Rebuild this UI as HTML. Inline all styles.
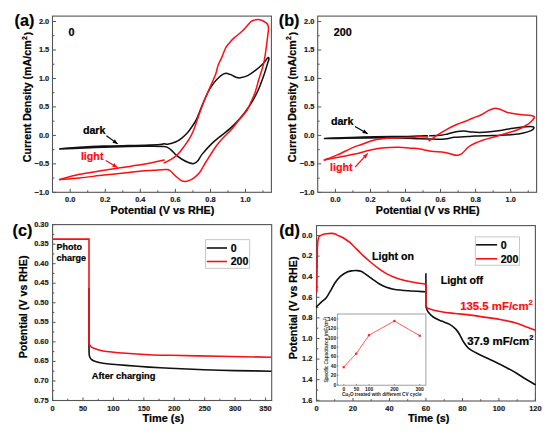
<!DOCTYPE html>
<html><head><meta charset="utf-8"><style>
html,body{margin:0;padding:0;background:#fff;}
body{width:550px;height:434px;overflow:hidden;}
svg{display:block;font-family:"Liberation Sans", sans-serif;}
</style></head><body>
<svg width="550" height="434" viewBox="0 0 550 434">
<rect width="550" height="434" fill="#fff"/>
<rect x="52.5" y="16.1" width="218.9" height="176.2" fill="none" stroke="#555" stroke-width="1.1"/>
<line x1="70.2" y1="192.3" x2="70.2" y2="188.8" stroke="#555" stroke-width="1"/>
<line x1="105.26" y1="192.3" x2="105.26" y2="188.8" stroke="#555" stroke-width="1"/>
<line x1="140.32" y1="192.3" x2="140.32" y2="188.8" stroke="#555" stroke-width="1"/>
<line x1="175.38" y1="192.3" x2="175.38" y2="188.8" stroke="#555" stroke-width="1"/>
<line x1="210.44" y1="192.3" x2="210.44" y2="188.8" stroke="#555" stroke-width="1"/>
<line x1="245.5" y1="192.3" x2="245.5" y2="188.8" stroke="#555" stroke-width="1"/>
<line x1="87.73" y1="192.3" x2="87.73" y2="190.3" stroke="#555" stroke-width="1"/>
<line x1="122.79" y1="192.3" x2="122.79" y2="190.3" stroke="#555" stroke-width="1"/>
<line x1="157.85" y1="192.3" x2="157.85" y2="190.3" stroke="#555" stroke-width="1"/>
<line x1="192.91" y1="192.3" x2="192.91" y2="190.3" stroke="#555" stroke-width="1"/>
<line x1="227.97" y1="192.3" x2="227.97" y2="190.3" stroke="#555" stroke-width="1"/>
<line x1="263.03" y1="192.3" x2="263.03" y2="190.3" stroke="#555" stroke-width="1"/>
<line x1="52.5" y1="192.35" x2="56" y2="192.35" stroke="#555" stroke-width="1"/>
<line x1="52.5" y1="163.88" x2="56" y2="163.88" stroke="#555" stroke-width="1"/>
<line x1="52.5" y1="135.4" x2="56" y2="135.4" stroke="#555" stroke-width="1"/>
<line x1="52.5" y1="106.93" x2="56" y2="106.93" stroke="#555" stroke-width="1"/>
<line x1="52.5" y1="78.45" x2="56" y2="78.45" stroke="#555" stroke-width="1"/>
<line x1="52.5" y1="49.97" x2="56" y2="49.97" stroke="#555" stroke-width="1"/>
<line x1="52.5" y1="21.5" x2="56" y2="21.5" stroke="#555" stroke-width="1"/>
<line x1="52.5" y1="178.11" x2="54.5" y2="178.11" stroke="#555" stroke-width="1"/>
<line x1="52.5" y1="149.64" x2="54.5" y2="149.64" stroke="#555" stroke-width="1"/>
<line x1="52.5" y1="121.16" x2="54.5" y2="121.16" stroke="#555" stroke-width="1"/>
<line x1="52.5" y1="92.69" x2="54.5" y2="92.69" stroke="#555" stroke-width="1"/>
<line x1="52.5" y1="64.21" x2="54.5" y2="64.21" stroke="#555" stroke-width="1"/>
<line x1="52.5" y1="35.74" x2="54.5" y2="35.74" stroke="#555" stroke-width="1"/>
<text x="70.2" y="201.8" font-size="7.4" text-anchor="middle" fill="#1a1a1a" font-weight="bold" stroke="#1a1a1a" stroke-width="0.18">0.0</text>
<text x="105.26" y="201.8" font-size="7.4" text-anchor="middle" fill="#1a1a1a" font-weight="bold" stroke="#1a1a1a" stroke-width="0.18">0.2</text>
<text x="140.32" y="201.8" font-size="7.4" text-anchor="middle" fill="#1a1a1a" font-weight="bold" stroke="#1a1a1a" stroke-width="0.18">0.4</text>
<text x="175.38" y="201.8" font-size="7.4" text-anchor="middle" fill="#1a1a1a" font-weight="bold" stroke="#1a1a1a" stroke-width="0.18">0.6</text>
<text x="210.44" y="201.8" font-size="7.4" text-anchor="middle" fill="#1a1a1a" font-weight="bold" stroke="#1a1a1a" stroke-width="0.18">0.8</text>
<text x="245.5" y="201.8" font-size="7.4" text-anchor="middle" fill="#1a1a1a" font-weight="bold" stroke="#1a1a1a" stroke-width="0.18">1.0</text>
<text x="49.2" y="194.65" font-size="7.4" text-anchor="end" fill="#1a1a1a" font-weight="bold" stroke="#1a1a1a" stroke-width="0.18">&#8722;1.0</text>
<text x="49.2" y="166.18" font-size="7.4" text-anchor="end" fill="#1a1a1a" font-weight="bold" stroke="#1a1a1a" stroke-width="0.18">&#8722;0.5</text>
<text x="49.2" y="137.7" font-size="7.4" text-anchor="end" fill="#1a1a1a" font-weight="bold" stroke="#1a1a1a" stroke-width="0.18">0.0</text>
<text x="49.2" y="109.23" font-size="7.4" text-anchor="end" fill="#1a1a1a" font-weight="bold" stroke="#1a1a1a" stroke-width="0.18">0.5</text>
<text x="49.2" y="80.75" font-size="7.4" text-anchor="end" fill="#1a1a1a" font-weight="bold" stroke="#1a1a1a" stroke-width="0.18">1.0</text>
<text x="49.2" y="52.27" font-size="7.4" text-anchor="end" fill="#1a1a1a" font-weight="bold" stroke="#1a1a1a" stroke-width="0.18">1.5</text>
<text x="49.2" y="23.8" font-size="7.4" text-anchor="end" fill="#1a1a1a" font-weight="bold" stroke="#1a1a1a" stroke-width="0.18">2.0</text>
<text x="14.6" y="26" font-size="16.2" text-anchor="start" fill="#000" font-weight="bold"  stroke="#000" stroke-width="0.22">(a)</text>
<text x="68.5" y="35.6" font-size="10.8" text-anchor="start" fill="#000" font-weight="bold"  stroke="#000" stroke-width="0.22">0</text>
<text x="162.4" y="214" font-size="10.8" text-anchor="middle" fill="#000" font-weight="bold"  stroke="#000" stroke-width="0.22">Potential (V vs RHE)</text>
<text transform="translate(31 162.2) rotate(-90)" x="0" y="0" font-size="10.65" font-weight="bold" fill="#000" stroke="#000" stroke-width="0.22" text-anchor="start">Current Density (mA/cm<tspan font-size="6.8" dy="-4.3" dx="0.4">2</tspan><tspan dy="4.3" dx="0.9" font-size="9.6">)</tspan></text>
<rect x="317.7" y="16.1" width="218.9" height="176.2" fill="none" stroke="#555" stroke-width="1.1"/>
<line x1="335.4" y1="192.3" x2="335.4" y2="188.8" stroke="#555" stroke-width="1"/>
<line x1="370.46" y1="192.3" x2="370.46" y2="188.8" stroke="#555" stroke-width="1"/>
<line x1="405.52" y1="192.3" x2="405.52" y2="188.8" stroke="#555" stroke-width="1"/>
<line x1="440.58" y1="192.3" x2="440.58" y2="188.8" stroke="#555" stroke-width="1"/>
<line x1="475.64" y1="192.3" x2="475.64" y2="188.8" stroke="#555" stroke-width="1"/>
<line x1="510.7" y1="192.3" x2="510.7" y2="188.8" stroke="#555" stroke-width="1"/>
<line x1="352.93" y1="192.3" x2="352.93" y2="190.3" stroke="#555" stroke-width="1"/>
<line x1="387.99" y1="192.3" x2="387.99" y2="190.3" stroke="#555" stroke-width="1"/>
<line x1="423.05" y1="192.3" x2="423.05" y2="190.3" stroke="#555" stroke-width="1"/>
<line x1="458.11" y1="192.3" x2="458.11" y2="190.3" stroke="#555" stroke-width="1"/>
<line x1="493.17" y1="192.3" x2="493.17" y2="190.3" stroke="#555" stroke-width="1"/>
<line x1="528.23" y1="192.3" x2="528.23" y2="190.3" stroke="#555" stroke-width="1"/>
<line x1="317.7" y1="192.35" x2="321.2" y2="192.35" stroke="#555" stroke-width="1"/>
<line x1="317.7" y1="163.88" x2="321.2" y2="163.88" stroke="#555" stroke-width="1"/>
<line x1="317.7" y1="135.4" x2="321.2" y2="135.4" stroke="#555" stroke-width="1"/>
<line x1="317.7" y1="106.93" x2="321.2" y2="106.93" stroke="#555" stroke-width="1"/>
<line x1="317.7" y1="78.45" x2="321.2" y2="78.45" stroke="#555" stroke-width="1"/>
<line x1="317.7" y1="49.97" x2="321.2" y2="49.97" stroke="#555" stroke-width="1"/>
<line x1="317.7" y1="21.5" x2="321.2" y2="21.5" stroke="#555" stroke-width="1"/>
<line x1="317.7" y1="178.11" x2="319.7" y2="178.11" stroke="#555" stroke-width="1"/>
<line x1="317.7" y1="149.64" x2="319.7" y2="149.64" stroke="#555" stroke-width="1"/>
<line x1="317.7" y1="121.16" x2="319.7" y2="121.16" stroke="#555" stroke-width="1"/>
<line x1="317.7" y1="92.69" x2="319.7" y2="92.69" stroke="#555" stroke-width="1"/>
<line x1="317.7" y1="64.21" x2="319.7" y2="64.21" stroke="#555" stroke-width="1"/>
<line x1="317.7" y1="35.74" x2="319.7" y2="35.74" stroke="#555" stroke-width="1"/>
<text x="335.4" y="201.8" font-size="7.4" text-anchor="middle" fill="#1a1a1a" font-weight="bold" stroke="#1a1a1a" stroke-width="0.18">0.0</text>
<text x="370.46" y="201.8" font-size="7.4" text-anchor="middle" fill="#1a1a1a" font-weight="bold" stroke="#1a1a1a" stroke-width="0.18">0.2</text>
<text x="405.52" y="201.8" font-size="7.4" text-anchor="middle" fill="#1a1a1a" font-weight="bold" stroke="#1a1a1a" stroke-width="0.18">0.4</text>
<text x="440.58" y="201.8" font-size="7.4" text-anchor="middle" fill="#1a1a1a" font-weight="bold" stroke="#1a1a1a" stroke-width="0.18">0.6</text>
<text x="475.64" y="201.8" font-size="7.4" text-anchor="middle" fill="#1a1a1a" font-weight="bold" stroke="#1a1a1a" stroke-width="0.18">0.8</text>
<text x="510.7" y="201.8" font-size="7.4" text-anchor="middle" fill="#1a1a1a" font-weight="bold" stroke="#1a1a1a" stroke-width="0.18">1.0</text>
<text x="314.4" y="194.65" font-size="7.4" text-anchor="end" fill="#1a1a1a" font-weight="bold" stroke="#1a1a1a" stroke-width="0.18">&#8722;1.0</text>
<text x="314.4" y="166.18" font-size="7.4" text-anchor="end" fill="#1a1a1a" font-weight="bold" stroke="#1a1a1a" stroke-width="0.18">&#8722;0.5</text>
<text x="314.4" y="137.7" font-size="7.4" text-anchor="end" fill="#1a1a1a" font-weight="bold" stroke="#1a1a1a" stroke-width="0.18">0.0</text>
<text x="314.4" y="109.23" font-size="7.4" text-anchor="end" fill="#1a1a1a" font-weight="bold" stroke="#1a1a1a" stroke-width="0.18">0.5</text>
<text x="314.4" y="80.75" font-size="7.4" text-anchor="end" fill="#1a1a1a" font-weight="bold" stroke="#1a1a1a" stroke-width="0.18">1.0</text>
<text x="314.4" y="52.27" font-size="7.4" text-anchor="end" fill="#1a1a1a" font-weight="bold" stroke="#1a1a1a" stroke-width="0.18">1.5</text>
<text x="314.4" y="23.8" font-size="7.4" text-anchor="end" fill="#1a1a1a" font-weight="bold" stroke="#1a1a1a" stroke-width="0.18">2.0</text>
<text x="278.8" y="26" font-size="16.2" text-anchor="start" fill="#000" font-weight="bold"  stroke="#000" stroke-width="0.22">(b)</text>
<text x="333.7" y="35.6" font-size="10.8" text-anchor="start" fill="#000" font-weight="bold"  stroke="#000" stroke-width="0.22">200</text>
<text x="427.6" y="214" font-size="10.8" text-anchor="middle" fill="#000" font-weight="bold"  stroke="#000" stroke-width="0.22">Potential (V vs RHE)</text>
<text transform="translate(295.7 162.2) rotate(-90)" x="0" y="0" font-size="10.65" font-weight="bold" fill="#000" stroke="#000" stroke-width="0.22" text-anchor="start">Current Density (mA/cm<tspan font-size="6.8" dy="-4.3" dx="0.4">2</tspan><tspan dy="4.3" dx="0.9" font-size="9.6">)</tspan></text>
<path d="M59.6 148.9 C62.92 148.63 72.08 147.77 79.5 147.3 C86.92 146.83 95.92 146.38 104.1 146.1 C112.28 145.82 121.78 145.73 128.6 145.6 C135.42 145.47 139.77 145.47 145 145.3 C150.23 145.13 156.8 144.85 160 144.6 C163.2 144.35 162.92 143.85 164.2 143.8 C165.48 143.75 165.73 144.63 167.7 144.3 C169.67 143.97 173.7 142.8 176 141.8 C178.3 140.8 179.67 139.73 181.5 138.3 C183.33 136.87 185.65 134.58 187 133.2 C188.35 131.82 188.08 132.18 189.6 130 C191.12 127.82 194.25 123.6 196.1 120.1 C197.95 116.6 199.17 112.68 200.7 109 C202.23 105.32 203.77 101.38 205.3 98 C206.83 94.62 208.37 91.35 209.9 88.7 C211.43 86.05 212.97 84.02 214.5 82.1 C216.03 80.18 217.57 78.57 219.1 77.2 C220.63 75.83 222.32 74.53 223.7 73.9 C225.08 73.27 226.02 73.17 227.4 73.4 C228.78 73.63 230.47 74.62 232 75.3 C233.53 75.98 235.22 77.08 236.6 77.5 C237.98 77.92 238.45 78.12 240.3 77.8 C242.15 77.48 245.23 76.78 247.7 75.6 C250.17 74.42 252.63 72.6 255.1 70.7 C257.57 68.8 260.35 66.37 262.5 64.2 C264.65 62.03 266.93 58.48 268 57.7 C269.07 56.92 268.9 58.78 268.9 59.5 C268.9 60.22 268.77 59.58 268 62 C267.23 64.42 265.83 69.55 264.3 74 C262.77 78.45 260.65 84.4 258.8 88.7 C256.95 93 255.35 96.1 253.2 99.8 C251.05 103.5 248.35 107.52 245.9 110.9 C243.45 114.28 241.12 117.18 238.5 120.1 C235.88 123.02 233.12 125.78 230.2 128.4 C227.28 131.02 224.12 133.22 221 135.8 C217.88 138.38 214.67 140.8 211.5 143.9 C208.33 147 204.23 151.65 202 154.4 C199.77 157.15 199.45 158.87 198.1 160.4 C196.75 161.93 195.52 163.25 193.9 163.6 C192.28 163.95 190.47 163.27 188.4 162.5 C186.33 161.73 183.57 160.27 181.5 159 C179.43 157.73 177.85 156.5 176 154.9 C174.15 153.3 172.37 150.78 170.4 149.4 C168.43 148.02 168.43 147.12 164.2 146.6 C159.97 146.08 150.93 146.32 145 146.3 C139.07 146.28 135.42 146.35 128.6 146.5 C121.78 146.65 112.28 146.9 104.1 147.2 C95.92 147.5 86.92 148.02 79.5 148.3 C72.08 148.58 62.92 148.8 59.6 148.9" fill="none" stroke="#111" stroke-width="1.5" stroke-linejoin="round" stroke-linecap="round"/>
<path d="M59.6 179.5 C62.92 178.63 72.9 175.72 79.5 174.3 C86.1 172.88 92.37 172.1 99.2 171 C106.03 169.9 112.87 168.85 120.5 167.7 C128.13 166.55 137.72 165.37 145 164.1 C152.28 162.83 161 160.77 164.2 160.1" fill="none" stroke="#fa0f14" stroke-width="1.5" stroke-linejoin="round" stroke-linecap="round"/>
<path d="M164.2 162.9 C165.23 162.37 168.22 161.03 170.4 159.7 C172.58 158.37 175.22 156.85 177.3 154.9 C179.38 152.95 180.85 150.77 182.9 148 C184.95 145.23 187.8 141.3 189.6 138.3 C191.4 135.3 192.12 133.95 193.7 130 C195.28 126.05 197.28 119.63 199.1 114.6 C200.92 109.57 202.75 104.42 204.6 99.8 C206.45 95.18 208.35 91.2 210.2 86.9 C212.05 82.6 214.37 77.65 215.7 74 C217.03 70.35 217.15 67.85 218.2 65 C219.25 62.15 220.77 59.73 222 56.9 C223.23 54.07 224.37 50.33 225.6 48 C226.83 45.67 227.98 44.58 229.4 42.9 C230.82 41.22 232.27 39.58 234.1 37.9 C235.93 36.22 238.5 34.5 240.4 32.8 C242.3 31.1 243.82 29.5 245.5 27.7 C247.18 25.9 249.03 23.27 250.5 22 C251.97 20.73 253.02 20.52 254.3 20.1 C255.58 19.68 256.72 19.35 258.2 19.5 C259.68 19.65 261.65 20.22 263.2 21 C264.75 21.78 266.62 22.95 267.5 24.2 C268.38 25.45 268.45 26.65 268.5 28.5 C268.55 30.35 268.13 32.47 267.8 35.3 C267.47 38.13 266.92 42.33 266.5 45.5 C266.08 48.67 265.83 51.05 265.3 54.3 C264.77 57.55 264.38 60.8 263.3 65 C262.22 69.2 260.17 74.93 258.8 79.5 C257.43 84.07 256.48 88.48 255.1 92.4 C253.72 96.32 251.87 99.98 250.5 103 C249.13 106.02 248.82 107.67 246.9 110.5 C244.98 113.33 241.55 116.87 239 120 C236.45 123.13 234.18 126.38 231.6 129.3 C229.02 132.22 226.05 134.72 223.5 137.5 C220.95 140.28 219.18 142 216.3 146 C213.42 150 208.92 157.17 206.2 161.5 C203.48 165.83 201.92 169.35 200 172 C198.08 174.65 196.53 175.97 194.7 177.4 C192.87 178.83 190.62 179.93 189 180.6 C187.38 181.27 186.25 181.4 185 181.4 C183.75 181.4 183 181.42 181.5 180.6 C180 179.78 177.85 178.1 176 176.5 C174.15 174.9 172.02 172.17 170.4 171 C168.78 169.83 169.07 169.62 166.3 169.5 C163.53 169.38 157.35 170.1 153.8 170.3 C150.25 170.5 149.2 170.32 145 170.7 C140.8 171.08 135.42 171.87 128.6 172.6 C121.78 173.33 112.28 174.22 104.1 175.1 C95.92 175.98 86.92 177.17 79.5 177.9 C72.08 178.63 62.92 179.23 59.6 179.5" fill="none" stroke="#fa0f14" stroke-width="1.5" stroke-linejoin="round" stroke-linecap="round"/>
<text x="82.9" y="133.6" font-size="10.7" text-anchor="start" fill="#000" font-weight="bold"  stroke="#000" stroke-width="0.22">dark</text>
<line x1="106.4" y1="135.7" x2="117.7" y2="143.9" stroke="#000" stroke-width="1.15"/>
<path d="M117.7 143.9 L112.42 142.66 L114.89 139.26 Z" fill="#000"/>
<text x="80.9" y="160" font-size="10.7" text-anchor="start" fill="#fa0f14" font-weight="bold"  stroke="#fa0f14" stroke-width="0.22">light</text>
<line x1="105.7" y1="160.4" x2="117.5" y2="167.4" stroke="#fa0f14" stroke-width="1.15"/>
<path d="M117.5 167.4 L112.13 166.66 L114.27 163.04 Z" fill="#fa0f14"/>
<path d="M324.4 138.4 C330.93 138.17 349.78 137.33 363.6 137 C377.42 136.67 397.9 136.58 407.3 136.4 C416.7 136.22 416.62 136.02 420 135.9 C423.38 135.78 424.15 135.8 427.6 135.7 C431.05 135.6 437.35 135.6 440.7 135.3 C444.05 135 445.15 134.48 447.7 133.9 C450.25 133.32 453.25 132.27 456 131.8 C458.75 131.33 461.45 131.05 464.2 131.1 C466.95 131.15 469.87 131.88 472.5 132.1 C475.13 132.32 477.47 132.43 480 132.4 C482.53 132.37 484.28 132.23 487.7 131.9 C491.12 131.57 496.25 131 500.5 130.4 C504.75 129.8 508.97 128.9 513.2 128.3 C517.43 127.7 522.62 127.05 525.9 126.8 C529.18 126.55 531.58 126.55 532.9 126.8 C534.22 127.05 534.12 127.67 533.8 128.3 C533.48 128.93 532.73 129.83 531 130.6 C529.27 131.37 526.37 132.25 523.4 132.9 C520.43 133.55 517.02 134.1 513.2 134.5 C509.38 134.9 504.75 135.1 500.5 135.3 C496.25 135.5 491.95 135.57 487.7 135.7 C483.45 135.83 478.22 135.95 475 136.1 C471.78 136.25 471.8 136.4 468.4 136.6 C465 136.8 458.52 136.9 454.6 137.3 C450.68 137.7 448.37 138.7 444.9 139 C441.43 139.3 437.95 139.15 433.8 139.1 C429.65 139.05 428.05 138.92 420 138.7 C411.95 138.48 401.43 137.82 385.5 137.8 C369.57 137.78 334.58 138.47 324.4 138.6" fill="none" stroke="#111" stroke-width="1.5" stroke-linejoin="round" stroke-linecap="round"/>
<rect x="427.9" y="134.2" width="1.3" height="2.6" fill="#fff"/>
<path d="M324.4 160 C326.58 159.15 332.78 156.97 337.5 154.9 C342.22 152.83 348.72 149.33 352.7 147.6 C356.68 145.87 357.4 145.83 361.4 144.5 C365.4 143.17 371.6 140.7 376.7 139.6 C381.8 138.5 386.9 138.23 392 137.9 C397.1 137.57 402.63 137.78 407.3 137.6 C411.97 137.42 416.62 136.88 420 136.8 C423.38 136.72 426.33 137.05 427.6 137.1" fill="none" stroke="#fa0f14" stroke-width="1.5" stroke-linejoin="round" stroke-linecap="round"/>
<path d="M429 140.8 C430.5 139.77 434.88 136.6 438 134.6 C441.12 132.6 444.48 130.53 447.7 128.8 C450.92 127.07 454.32 125.47 457.3 124.2 C460.28 122.93 463.07 122.2 465.6 121.2 C468.13 120.2 469.87 119.28 472.5 118.2 C475.13 117.12 478.87 115.92 481.4 114.7 C483.93 113.48 485.58 111.95 487.7 110.9 C489.82 109.85 492.18 108.72 494.1 108.4 C496.02 108.08 497.08 108.37 499.2 109 C501.32 109.63 504.05 111.35 506.8 112.2 C509.55 113.05 512.52 113.62 515.7 114.1 C518.88 114.58 523.03 114.78 525.9 115.1 C528.77 115.42 531.52 115.57 532.9 116 C534.28 116.43 534.52 116.75 534.2 117.7 C533.88 118.65 532.38 120.4 531 121.7 C529.62 123 528.23 124.12 525.9 125.5 C523.57 126.88 520.18 128.72 517 130 C513.82 131.28 510.62 132.03 506.8 133.2 C502.98 134.37 498.13 135.83 494.1 137 C490.07 138.17 485.78 139.15 482.6 140.2 C479.42 141.25 477.37 142.17 475 143.3 C472.63 144.43 470.65 145.23 468.4 147 C466.15 148.77 463.57 152.52 461.5 153.9 C459.43 155.28 458.77 155.53 456 155.3 C453.23 155.07 449.05 153.18 444.9 152.5 C440.75 151.82 435.25 151.78 431.1 151.2 C426.95 150.62 423.25 149.5 420 149 C416.75 148.5 415.18 148.48 411.6 148.2 C408.02 147.92 403.45 147.32 398.5 147.3 C393.55 147.28 386.75 147.6 381.9 148.1 C377.05 148.6 373.93 149.3 369.4 150.3 C364.87 151.3 359.58 153 354.7 154.1 C349.82 155.2 345.15 155.92 340.1 156.9 C335.05 157.88 327.02 159.48 324.4 160" fill="none" stroke="#fa0f14" stroke-width="1.5" stroke-linejoin="round" stroke-linecap="round"/>
<text x="330.9" y="124.7" font-size="10.7" text-anchor="start" fill="#000" font-weight="bold"  stroke="#000" stroke-width="0.22">dark</text>
<line x1="355" y1="126.4" x2="367.7" y2="133.8" stroke="#000" stroke-width="1.15"/>
<path d="M367.7 133.8 L362.32 133.1 L364.44 129.47 Z" fill="#000"/>
<text x="330" y="171.2" font-size="10.7" text-anchor="start" fill="#fa0f14" font-weight="bold"  stroke="#fa0f14" stroke-width="0.22">light</text>
<line x1="355.2" y1="167" x2="367.7" y2="153.4" stroke="#fa0f14" stroke-width="1.15"/>
<path d="M367.7 153.4 L365.86 158.5 L362.77 155.66 Z" fill="#fa0f14"/>
<rect x="52.6" y="224.6" width="219.1" height="175.9" fill="none" stroke="#555" stroke-width="1.1"/>
<line x1="52.6" y1="400.5" x2="52.6" y2="397.5" stroke="#555" stroke-width="1"/>
<line x1="83.02" y1="400.5" x2="83.02" y2="397.5" stroke="#555" stroke-width="1"/>
<line x1="113.43" y1="400.5" x2="113.43" y2="397.5" stroke="#555" stroke-width="1"/>
<line x1="143.84" y1="400.5" x2="143.84" y2="397.5" stroke="#555" stroke-width="1"/>
<line x1="174.26" y1="400.5" x2="174.26" y2="397.5" stroke="#555" stroke-width="1"/>
<line x1="204.67" y1="400.5" x2="204.67" y2="397.5" stroke="#555" stroke-width="1"/>
<line x1="235.09" y1="400.5" x2="235.09" y2="397.5" stroke="#555" stroke-width="1"/>
<line x1="265.5" y1="400.5" x2="265.5" y2="397.5" stroke="#555" stroke-width="1"/>
<line x1="67.81" y1="400.5" x2="67.81" y2="398.7" stroke="#555" stroke-width="1"/>
<line x1="98.22" y1="400.5" x2="98.22" y2="398.7" stroke="#555" stroke-width="1"/>
<line x1="128.64" y1="400.5" x2="128.64" y2="398.7" stroke="#555" stroke-width="1"/>
<line x1="159.05" y1="400.5" x2="159.05" y2="398.7" stroke="#555" stroke-width="1"/>
<line x1="189.47" y1="400.5" x2="189.47" y2="398.7" stroke="#555" stroke-width="1"/>
<line x1="219.88" y1="400.5" x2="219.88" y2="398.7" stroke="#555" stroke-width="1"/>
<line x1="250.3" y1="400.5" x2="250.3" y2="398.7" stroke="#555" stroke-width="1"/>
<line x1="52.6" y1="224.6" x2="55.6" y2="224.6" stroke="#555" stroke-width="1"/>
<line x1="52.6" y1="244.14" x2="55.6" y2="244.14" stroke="#555" stroke-width="1"/>
<line x1="52.6" y1="263.69" x2="55.6" y2="263.69" stroke="#555" stroke-width="1"/>
<line x1="52.6" y1="283.24" x2="55.6" y2="283.24" stroke="#555" stroke-width="1"/>
<line x1="52.6" y1="302.78" x2="55.6" y2="302.78" stroke="#555" stroke-width="1"/>
<line x1="52.6" y1="322.33" x2="55.6" y2="322.33" stroke="#555" stroke-width="1"/>
<line x1="52.6" y1="341.87" x2="55.6" y2="341.87" stroke="#555" stroke-width="1"/>
<line x1="52.6" y1="361.41" x2="55.6" y2="361.41" stroke="#555" stroke-width="1"/>
<line x1="52.6" y1="380.96" x2="55.6" y2="380.96" stroke="#555" stroke-width="1"/>
<line x1="52.6" y1="400.5" x2="55.6" y2="400.5" stroke="#555" stroke-width="1"/>
<line x1="52.6" y1="234.37" x2="54.4" y2="234.37" stroke="#555" stroke-width="1"/>
<line x1="52.6" y1="253.92" x2="54.4" y2="253.92" stroke="#555" stroke-width="1"/>
<line x1="52.6" y1="273.46" x2="54.4" y2="273.46" stroke="#555" stroke-width="1"/>
<line x1="52.6" y1="293.01" x2="54.4" y2="293.01" stroke="#555" stroke-width="1"/>
<line x1="52.6" y1="312.55" x2="54.4" y2="312.55" stroke="#555" stroke-width="1"/>
<line x1="52.6" y1="332.1" x2="54.4" y2="332.1" stroke="#555" stroke-width="1"/>
<line x1="52.6" y1="351.64" x2="54.4" y2="351.64" stroke="#555" stroke-width="1"/>
<line x1="52.6" y1="371.19" x2="54.4" y2="371.19" stroke="#555" stroke-width="1"/>
<line x1="52.6" y1="390.73" x2="54.4" y2="390.73" stroke="#555" stroke-width="1"/>
<text x="52.6" y="410.8" font-size="7.4" text-anchor="middle" fill="#1a1a1a" font-weight="bold" stroke="#1a1a1a" stroke-width="0.18">0</text>
<text x="83.02" y="410.8" font-size="7.4" text-anchor="middle" fill="#1a1a1a" font-weight="bold" stroke="#1a1a1a" stroke-width="0.18">50</text>
<text x="113.43" y="410.8" font-size="7.4" text-anchor="middle" fill="#1a1a1a" font-weight="bold" stroke="#1a1a1a" stroke-width="0.18">100</text>
<text x="143.84" y="410.8" font-size="7.4" text-anchor="middle" fill="#1a1a1a" font-weight="bold" stroke="#1a1a1a" stroke-width="0.18">150</text>
<text x="174.26" y="410.8" font-size="7.4" text-anchor="middle" fill="#1a1a1a" font-weight="bold" stroke="#1a1a1a" stroke-width="0.18">200</text>
<text x="204.67" y="410.8" font-size="7.4" text-anchor="middle" fill="#1a1a1a" font-weight="bold" stroke="#1a1a1a" stroke-width="0.18">250</text>
<text x="235.09" y="410.8" font-size="7.4" text-anchor="middle" fill="#1a1a1a" font-weight="bold" stroke="#1a1a1a" stroke-width="0.18">300</text>
<text x="265.5" y="410.8" font-size="7.4" text-anchor="middle" fill="#1a1a1a" font-weight="bold" stroke="#1a1a1a" stroke-width="0.18">350</text>
<text x="48.6" y="226.6" font-size="7.4" text-anchor="end" fill="#1a1a1a" font-weight="bold" stroke="#1a1a1a" stroke-width="0.18">0.30</text>
<text x="48.6" y="246.14" font-size="7.4" text-anchor="end" fill="#1a1a1a" font-weight="bold" stroke="#1a1a1a" stroke-width="0.18">0.35</text>
<text x="48.6" y="265.69" font-size="7.4" text-anchor="end" fill="#1a1a1a" font-weight="bold" stroke="#1a1a1a" stroke-width="0.18">0.40</text>
<text x="48.6" y="285.24" font-size="7.4" text-anchor="end" fill="#1a1a1a" font-weight="bold" stroke="#1a1a1a" stroke-width="0.18">0.45</text>
<text x="48.6" y="304.78" font-size="7.4" text-anchor="end" fill="#1a1a1a" font-weight="bold" stroke="#1a1a1a" stroke-width="0.18">0.50</text>
<text x="48.6" y="324.33" font-size="7.4" text-anchor="end" fill="#1a1a1a" font-weight="bold" stroke="#1a1a1a" stroke-width="0.18">0.55</text>
<text x="48.6" y="343.87" font-size="7.4" text-anchor="end" fill="#1a1a1a" font-weight="bold" stroke="#1a1a1a" stroke-width="0.18">0.60</text>
<text x="48.6" y="363.41" font-size="7.4" text-anchor="end" fill="#1a1a1a" font-weight="bold" stroke="#1a1a1a" stroke-width="0.18">0.65</text>
<text x="48.6" y="382.96" font-size="7.4" text-anchor="end" fill="#1a1a1a" font-weight="bold" stroke="#1a1a1a" stroke-width="0.18">0.70</text>
<text x="48.6" y="402.5" font-size="7.4" text-anchor="end" fill="#1a1a1a" font-weight="bold" stroke="#1a1a1a" stroke-width="0.18">0.75</text>
<text x="12.6" y="235.8" font-size="16.2" text-anchor="start" fill="#000" font-weight="bold"  stroke="#000" stroke-width="0.22">(c)</text>
<text x="163.4" y="422.1" font-size="10.9" text-anchor="middle" fill="#000" font-weight="bold"  stroke="#000" stroke-width="0.22">Time (s)</text>
<text transform="translate(27.4 358.3) rotate(-90)" font-size="10.7" font-weight="bold" fill="#000" stroke="#000" stroke-width="0.22">Potential (V vs RHE)</text>
<text x="56.6" y="249.8" font-size="9" text-anchor="start" fill="#000" font-weight="bold"  stroke="#000" stroke-width="0.22">Photo</text>
<text x="56.6" y="260.6" font-size="9" text-anchor="start" fill="#000" font-weight="bold"  stroke="#000" stroke-width="0.22">charge</text>
<text x="91.8" y="378.9" font-size="9.3" text-anchor="start" fill="#000" font-weight="bold"  stroke="#000" stroke-width="0.22">After charging</text>
<rect x="205.5" y="239.7" width="44.2" height="28.6" fill="#fff" stroke="#bbb" stroke-width="0.8"/>
<line x1="206.8" y1="248" x2="227" y2="248" stroke="#111" stroke-width="1.6"/>
<line x1="206.8" y1="261.5" x2="227" y2="261.5" stroke="#fa0f14" stroke-width="1.6"/>
<text x="230.7" y="251.6" font-size="10.6" text-anchor="start" fill="#000" font-weight="bold"  stroke="#000" stroke-width="0.22">0</text>
<text x="230.7" y="265.2" font-size="10.6" text-anchor="start" fill="#000" font-weight="bold"  stroke="#000" stroke-width="0.22">200</text>
<path d="M89 288 C89 293.7 88.98 338.35 89 345 C89.02 351.65 89.1 353.25 89.2 354.5 C89.3 355.75 89.77 357 90 357.5 C90.23 358 90.95 359.09 91.5 359.5 C92.05 359.91 94.35 361.23 95.5 361.6 C96.65 361.97 99.95 362.82 103 363.2 C106.05 363.58 121.39 365.01 126 365.4 C130.61 365.79 144.7 366.82 149.1 367.1 C153.5 367.38 164.51 367.93 170 368.2 C175.49 368.47 197.5 369.56 204 369.8 C210.5 370.04 228.26 370.46 235 370.6 C241.74 370.74 267.76 371.14 271.4 371.2" fill="none" stroke="#111" stroke-width="1.6" stroke-linejoin="round"/>
<path d="M52.6 239.1 L89.0 239.1 L89.0 343.7 L89.1 343.5 C89.29 343.87 89.87 345.66 90.5 346.3 C91.13 346.94 92.13 347.67 93.8 348.3 C95.47 348.93 98.71 350.33 103 351 C107.29 351.67 119.85 352.81 126 353.3 C132.15 353.79 143.23 354.43 149.1 354.7 C154.97 354.97 160.55 355.09 170 355.3 C179.45 355.51 206.48 356.05 220 356.3 C233.52 356.55 264.55 357.08 271.4 357.2" fill="none" stroke="#fa0f14" stroke-width="1.6" stroke-linejoin="miter"/>
<rect x="316.5" y="225.6" width="218.9" height="175.4" fill="none" stroke="#555" stroke-width="1.1"/>
<line x1="316.5" y1="401" x2="316.5" y2="398" stroke="#555" stroke-width="1"/>
<line x1="352.98" y1="401" x2="352.98" y2="398" stroke="#555" stroke-width="1"/>
<line x1="389.47" y1="401" x2="389.47" y2="398" stroke="#555" stroke-width="1"/>
<line x1="425.95" y1="401" x2="425.95" y2="398" stroke="#555" stroke-width="1"/>
<line x1="462.44" y1="401" x2="462.44" y2="398" stroke="#555" stroke-width="1"/>
<line x1="498.92" y1="401" x2="498.92" y2="398" stroke="#555" stroke-width="1"/>
<line x1="535.4" y1="401" x2="535.4" y2="398" stroke="#555" stroke-width="1"/>
<line x1="334.74" y1="401" x2="334.74" y2="399.2" stroke="#555" stroke-width="1"/>
<line x1="371.23" y1="401" x2="371.23" y2="399.2" stroke="#555" stroke-width="1"/>
<line x1="407.71" y1="401" x2="407.71" y2="399.2" stroke="#555" stroke-width="1"/>
<line x1="444.19" y1="401" x2="444.19" y2="399.2" stroke="#555" stroke-width="1"/>
<line x1="480.68" y1="401" x2="480.68" y2="399.2" stroke="#555" stroke-width="1"/>
<line x1="517.16" y1="401" x2="517.16" y2="399.2" stroke="#555" stroke-width="1"/>
<line x1="316.5" y1="235.5" x2="319.5" y2="235.5" stroke="#555" stroke-width="1"/>
<line x1="316.5" y1="256.1" x2="319.5" y2="256.1" stroke="#555" stroke-width="1"/>
<line x1="316.5" y1="276.7" x2="319.5" y2="276.7" stroke="#555" stroke-width="1"/>
<line x1="316.5" y1="297.3" x2="319.5" y2="297.3" stroke="#555" stroke-width="1"/>
<line x1="316.5" y1="317.9" x2="319.5" y2="317.9" stroke="#555" stroke-width="1"/>
<line x1="316.5" y1="338.5" x2="319.5" y2="338.5" stroke="#555" stroke-width="1"/>
<line x1="316.5" y1="359.1" x2="319.5" y2="359.1" stroke="#555" stroke-width="1"/>
<line x1="316.5" y1="379.7" x2="319.5" y2="379.7" stroke="#555" stroke-width="1"/>
<line x1="316.5" y1="400.3" x2="319.5" y2="400.3" stroke="#555" stroke-width="1"/>
<line x1="316.5" y1="245.8" x2="318.3" y2="245.8" stroke="#555" stroke-width="1"/>
<line x1="316.5" y1="266.4" x2="318.3" y2="266.4" stroke="#555" stroke-width="1"/>
<line x1="316.5" y1="287" x2="318.3" y2="287" stroke="#555" stroke-width="1"/>
<line x1="316.5" y1="307.6" x2="318.3" y2="307.6" stroke="#555" stroke-width="1"/>
<line x1="316.5" y1="328.2" x2="318.3" y2="328.2" stroke="#555" stroke-width="1"/>
<line x1="316.5" y1="348.8" x2="318.3" y2="348.8" stroke="#555" stroke-width="1"/>
<line x1="316.5" y1="369.4" x2="318.3" y2="369.4" stroke="#555" stroke-width="1"/>
<line x1="316.5" y1="390" x2="318.3" y2="390" stroke="#555" stroke-width="1"/>
<text x="316.5" y="410.9" font-size="7.4" text-anchor="middle" fill="#1a1a1a" font-weight="bold" stroke="#1a1a1a" stroke-width="0.18">0</text>
<text x="352.98" y="410.9" font-size="7.4" text-anchor="middle" fill="#1a1a1a" font-weight="bold" stroke="#1a1a1a" stroke-width="0.18">20</text>
<text x="389.47" y="410.9" font-size="7.4" text-anchor="middle" fill="#1a1a1a" font-weight="bold" stroke="#1a1a1a" stroke-width="0.18">40</text>
<text x="425.95" y="410.9" font-size="7.4" text-anchor="middle" fill="#1a1a1a" font-weight="bold" stroke="#1a1a1a" stroke-width="0.18">60</text>
<text x="462.44" y="410.9" font-size="7.4" text-anchor="middle" fill="#1a1a1a" font-weight="bold" stroke="#1a1a1a" stroke-width="0.18">80</text>
<text x="498.92" y="410.9" font-size="7.4" text-anchor="middle" fill="#1a1a1a" font-weight="bold" stroke="#1a1a1a" stroke-width="0.18">100</text>
<text x="535.4" y="410.9" font-size="7.4" text-anchor="middle" fill="#1a1a1a" font-weight="bold" stroke="#1a1a1a" stroke-width="0.18">120</text>
<text x="312.4" y="237.7" font-size="7.4" text-anchor="end" fill="#1a1a1a" font-weight="bold" stroke="#1a1a1a" stroke-width="0.18">0.0</text>
<text x="312.4" y="258.3" font-size="7.4" text-anchor="end" fill="#1a1a1a" font-weight="bold" stroke="#1a1a1a" stroke-width="0.18">0.2</text>
<text x="312.4" y="278.9" font-size="7.4" text-anchor="end" fill="#1a1a1a" font-weight="bold" stroke="#1a1a1a" stroke-width="0.18">0.4</text>
<text x="312.4" y="299.5" font-size="7.4" text-anchor="end" fill="#1a1a1a" font-weight="bold" stroke="#1a1a1a" stroke-width="0.18">0.6</text>
<text x="312.4" y="320.1" font-size="7.4" text-anchor="end" fill="#1a1a1a" font-weight="bold" stroke="#1a1a1a" stroke-width="0.18">0.8</text>
<text x="312.4" y="340.7" font-size="7.4" text-anchor="end" fill="#1a1a1a" font-weight="bold" stroke="#1a1a1a" stroke-width="0.18">1.0</text>
<text x="312.4" y="361.3" font-size="7.4" text-anchor="end" fill="#1a1a1a" font-weight="bold" stroke="#1a1a1a" stroke-width="0.18">1.2</text>
<text x="312.4" y="381.9" font-size="7.4" text-anchor="end" fill="#1a1a1a" font-weight="bold" stroke="#1a1a1a" stroke-width="0.18">1.4</text>
<text x="312.4" y="402.5" font-size="7.4" text-anchor="end" fill="#1a1a1a" font-weight="bold" stroke="#1a1a1a" stroke-width="0.18">1.6</text>
<text x="279.2" y="235.8" font-size="16.2" text-anchor="start" fill="#000" font-weight="bold"  stroke="#000" stroke-width="0.22">(d)</text>
<text x="428.7" y="422.3" font-size="10.9" text-anchor="middle" fill="#000" font-weight="bold"  stroke="#000" stroke-width="0.22">Time (s)</text>
<text transform="translate(296.6 359.3) rotate(-90)" font-size="10.7" font-weight="bold" fill="#000" stroke="#000" stroke-width="0.22">Potential (V vs RHE)</text>
<text x="372.1" y="259.8" font-size="10.6" text-anchor="start" fill="#000" font-weight="bold"  stroke="#000" stroke-width="0.22">Light on</text>
<text x="440.7" y="284.3" font-size="10.6" text-anchor="start" fill="#000" font-weight="bold"  stroke="#000" stroke-width="0.22">Light off</text>
<text x="460.2" y="310.4" font-size="11.4" text-anchor="start" fill="#fa0f14" font-weight="bold"  stroke="#fa0f14" stroke-width="0.22">135.5 mF/cm<tspan font-size="7.6" dy="-5">2</tspan></text>
<text x="467.2" y="345.2" font-size="11.4" text-anchor="start" fill="#000" font-weight="bold"  stroke="#000" stroke-width="0.22">37.9 mF/cm<tspan font-size="7.6" dy="-5">2</tspan></text>
<rect x="475.3" y="236.9" width="44.3" height="28.3" fill="#fff" stroke="#bbb" stroke-width="0.8"/>
<line x1="476.1" y1="244.8" x2="497.1" y2="244.8" stroke="#111" stroke-width="1.6"/>
<line x1="476.1" y1="258.8" x2="497.1" y2="258.8" stroke="#fa0f14" stroke-width="1.6"/>
<text x="500.7" y="248.6" font-size="10.6" text-anchor="start" fill="#000" font-weight="bold"  stroke="#000" stroke-width="0.22">0</text>
<text x="500.7" y="262.6" font-size="10.6" text-anchor="start" fill="#000" font-weight="bold"  stroke="#000" stroke-width="0.22">200</text>
<path d="M316.5 306.8 C317.35 305.97 320 303.27 321.6 301.8 C323.2 300.33 324.62 299.83 326.1 298 C327.58 296.17 329.03 293.3 330.5 290.8 C331.97 288.3 333.25 285.4 334.9 283 C336.55 280.6 338.37 278.23 340.4 276.4 C342.43 274.57 345.07 272.93 347.1 272 C349.13 271.07 350.9 271.03 352.6 270.8 C354.3 270.57 355.82 270.47 357.3 270.6 C358.78 270.73 360.3 271.13 361.5 271.6 C362.7 272.07 362.78 272.22 364.5 273.4 C366.22 274.58 369.37 276.97 371.8 278.7 C374.23 280.43 376.67 282.37 379.1 283.8 C381.53 285.23 383.98 286.4 386.4 287.3 C388.82 288.2 389.97 288.62 393.6 289.2 C397.23 289.78 402.82 290.37 408.2 290.8 C413.58 291.23 422.95 291.63 425.9 291.8" fill="none" stroke="#111" stroke-width="1.6" stroke-linejoin="round" stroke-linecap="round"/>
<line x1="425.9" y1="273.3" x2="425.9" y2="307" stroke="#111" stroke-width="1.6"/>
<path d="M425.9 306.6 C426.25 307.47 426.78 310.07 428 311.8 C429.22 313.53 430.95 315.45 433.2 317 C435.45 318.55 438.75 319.87 441.5 321.1 C444.25 322.33 447.28 323.02 449.7 324.4 C452.12 325.78 454.32 327.67 456 329.4 C457.68 331.13 458.62 332.83 459.8 334.8 C460.98 336.77 461.72 339.03 463.1 341.2 C464.48 343.37 465.88 345.83 468.1 347.8 C470.32 349.77 473.37 351.33 476.4 353 C479.43 354.67 482.98 356.22 486.3 357.8 C489.62 359.38 492.98 360.88 496.3 362.5 C499.62 364.12 502.88 365.75 506.2 367.5 C509.52 369.25 512.88 371.03 516.2 373 C519.52 374.97 522.95 377.38 526.1 379.3 C529.25 381.22 533.6 383.63 535.1 384.5" fill="none" stroke="#111" stroke-width="1.6" stroke-linejoin="round" stroke-linecap="round"/>
<path d="M316.8 292 C316.83 289.17 316.93 280.33 317 275 C317.07 269.67 317.12 265 317.2 260 C317.28 255 317.28 248.73 317.5 245 C317.72 241.27 318.08 239.12 318.5 237.6 C318.92 236.08 319.27 236.42 320 235.9 C320.73 235.38 321.82 234.87 322.9 234.5 C323.98 234.13 325.05 233.88 326.5 233.7 C327.95 233.52 330.1 233.35 331.6 233.4 C333.1 233.45 334.5 233.67 335.5 234 C336.5 234.33 336.67 234.93 337.6 235.4 C338.53 235.87 339.92 236.23 341.1 236.8 C342.28 237.37 343.47 238.02 344.7 238.8 C345.93 239.58 347.28 240.55 348.5 241.5 C349.72 242.45 350.27 242.85 352 244.5 C353.73 246.15 357.08 249.58 358.9 251.4 C360.72 253.22 360.98 253.63 362.9 255.4 C364.82 257.17 367.7 259.75 370.4 262 C373.1 264.25 376.43 266.97 379.1 268.9 C381.77 270.83 383.98 272.23 386.4 273.6 C388.82 274.97 391.18 276.1 393.6 277.1 C396.02 278.1 398.47 278.9 400.9 279.6 C403.33 280.3 405.68 280.78 408.2 281.3 C410.72 281.82 413.05 282.25 416 282.7 C418.95 283.15 424.25 283.78 425.9 284" fill="none" stroke="#fa0f14" stroke-width="1.6" stroke-linejoin="round" stroke-linecap="round"/>
<line x1="425.9" y1="284.5" x2="425.9" y2="306.6" stroke="#fa0f14" stroke-width="1.6"/>
<path d="M425.9 306.6 C426.42 306.95 426.4 307.83 429 308.7 C431.6 309.57 437.17 311 441.5 311.8 C445.83 312.6 450.17 312.95 455 313.5 C459.83 314.05 465.35 314.45 470.5 315.1 C475.65 315.75 480.75 316.63 485.9 317.4 C491.05 318.17 496.25 318.72 501.4 319.7 C506.55 320.68 512.43 322.03 516.8 323.3 C521.17 324.57 524.52 326.15 527.6 327.3 C530.68 328.45 534.02 329.72 535.3 330.2" fill="none" stroke="#fa0f14" stroke-width="1.6" stroke-linejoin="round" stroke-linecap="round"/>
<rect x="337.3" y="314" width="88.6" height="71.2" fill="#fff" stroke="#888" stroke-width="0.8"/>
<line x1="337.3" y1="384.8" x2="338.6" y2="384.8" stroke="#555" stroke-width="0.6"/>
<text x="336.2" y="386.6" font-size="5" text-anchor="end" fill="#222" font-weight="bold" >0</text>
<line x1="337.3" y1="375.39" x2="338.6" y2="375.39" stroke="#555" stroke-width="0.6"/>
<text x="336.2" y="377.19" font-size="5" text-anchor="end" fill="#222" font-weight="bold" >20</text>
<line x1="337.3" y1="365.97" x2="338.6" y2="365.97" stroke="#555" stroke-width="0.6"/>
<text x="336.2" y="367.77" font-size="5" text-anchor="end" fill="#222" font-weight="bold" >40</text>
<line x1="337.3" y1="356.56" x2="338.6" y2="356.56" stroke="#555" stroke-width="0.6"/>
<text x="336.2" y="358.36" font-size="5" text-anchor="end" fill="#222" font-weight="bold" >60</text>
<line x1="337.3" y1="347.14" x2="338.6" y2="347.14" stroke="#555" stroke-width="0.6"/>
<text x="336.2" y="348.94" font-size="5" text-anchor="end" fill="#222" font-weight="bold" >80</text>
<line x1="337.3" y1="337.73" x2="338.6" y2="337.73" stroke="#555" stroke-width="0.6"/>
<text x="336.2" y="339.53" font-size="5" text-anchor="end" fill="#222" font-weight="bold" >100</text>
<line x1="337.3" y1="328.32" x2="338.6" y2="328.32" stroke="#555" stroke-width="0.6"/>
<text x="336.2" y="330.12" font-size="5" text-anchor="end" fill="#222" font-weight="bold" >120</text>
<line x1="337.3" y1="318.9" x2="338.6" y2="318.9" stroke="#555" stroke-width="0.6"/>
<text x="336.2" y="320.7" font-size="5" text-anchor="end" fill="#222" font-weight="bold" >140</text>
<line x1="343.8" y1="385.2" x2="343.8" y2="383.9" stroke="#555" stroke-width="0.6"/>
<text x="343.8" y="390.6" font-size="5" text-anchor="middle" fill="#222" font-weight="bold" >0</text>
<line x1="356.45" y1="385.2" x2="356.45" y2="383.9" stroke="#555" stroke-width="0.6"/>
<text x="356.45" y="390.6" font-size="5" text-anchor="middle" fill="#222" font-weight="bold" >50</text>
<line x1="369.1" y1="385.2" x2="369.1" y2="383.9" stroke="#555" stroke-width="0.6"/>
<text x="369.1" y="390.6" font-size="5" text-anchor="middle" fill="#222" font-weight="bold" >100</text>
<line x1="394.4" y1="385.2" x2="394.4" y2="383.9" stroke="#555" stroke-width="0.6"/>
<text x="394.4" y="390.6" font-size="5" text-anchor="middle" fill="#222" font-weight="bold" >200</text>
<line x1="419.7" y1="385.2" x2="419.7" y2="383.9" stroke="#555" stroke-width="0.6"/>
<text x="419.7" y="390.6" font-size="5" text-anchor="middle" fill="#222" font-weight="bold" >300</text>
<text x="342" y="396.2" font-size="5" text-anchor="start" fill="#222" font-weight="bold" textLength="79.5" lengthAdjust="spacingAndGlyphs">Cu<tspan font-size="3.4" dy="1">2</tspan><tspan dy="-1">O treated with different CV cycle</tspan></text>
<text transform="translate(327.9 382.6) rotate(-90)" font-size="5.3" font-weight="normal" fill="#222" stroke="#222" stroke-width="0.12" textLength="66" lengthAdjust="spacingAndGlyphs">Specific Capacitance (mF/cm<tspan font-size="3.4" dy="-1.6">2</tspan><tspan dy="1.6">)</tspan></text>
<path d="M343.7 367.2 L356.2 353.7 L369 335.2 L394.4 321 L419.7 335.7" fill="none" stroke="#f33" stroke-width="0.8"/>
<rect x="342.6" y="366.1" width="2.2" height="2.2" fill="#f22"/>
<rect x="355.1" y="352.6" width="2.2" height="2.2" fill="#f22"/>
<rect x="367.9" y="334.1" width="2.2" height="2.2" fill="#f22"/>
<rect x="393.3" y="319.9" width="2.2" height="2.2" fill="#f22"/>
<rect x="418.6" y="334.6" width="2.2" height="2.2" fill="#f22"/>
</svg>
</body></html>
